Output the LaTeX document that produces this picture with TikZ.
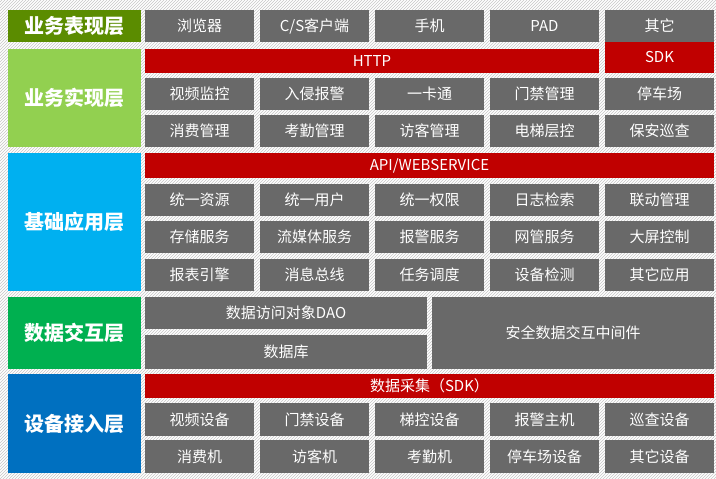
\documentclass[tikz,border=0pt]{standalone}
\usepackage{fontspec}
\setmainfont{Noto Sans CJK SC}
\usetikzlibrary{patterns}
\definecolor{cellgray}{HTML}{696969}
\definecolor{barred}{HTML}{C00000}
\definecolor{layerA}{HTML}{5B8C00}
\definecolor{layerB}{HTML}{92D050}
\definecolor{layerC}{HTML}{00B0F0}
\definecolor{layerD}{HTML}{00B050}
\definecolor{layerE}{HTML}{0070C0}
\begin{document}
\begin{tikzpicture}[x=1pt, y=-1pt,
    cell/.style={fill=cellgray, text=white, inner sep=0pt, minimum width=109pt, minimum height=32pt, font=\fontsize{15}{18}\selectfont},
    bar/.style={cell, fill=barred, minimum height=24pt},
    layer/.style={text=white, inner sep=0pt, minimum width=133pt, font=\fontsize{20}{24}\selectfont\bfseries}]
    % Fundo
    \useasboundingbox (0,0) rectangle (716,479);
    \fill[white] (0,0) rectangle (716,479);
    \fill[pattern=north east lines, pattern color=gray!45] (0,0) rectangle (716,479);

    % Camadas
    \node[layer, fill=layerA, minimum height=32pt] (L1) at (74.5,26) {业务表现层};
    \node[layer, fill=layerB, minimum height=98pt] (L2) at (74.5,98) {业务实现层};
    \node[layer, fill=layerC, minimum height=138pt] (L3) at (74.5,222) {基础应用层};
    \node[layer, fill=layerD, minimum height=72pt] (L4) at (74.5,333) {数据交互层};
    \node[layer, fill=layerE, minimum height=99pt] (L5) at (74.5,423.5) {设备接入层};

    % Linha 1
    \node[cell] (r1c1) at (199.5,26) {浏览器};
    \node[cell] (r1c2) at (314.5,26) {C/S客户端};
    \node[cell] (r1c3) at (429.5,26) {手机};
    \node[cell] (r1c4) at (544.5,26) {PAD};
    \node[cell] (r1c5) at (659.5,26) {其它};

    % Interfaces
    \node[bar, minimum width=454pt] (http) at (372,61) {HTTP};
    \node[bar, minimum height=31pt] (sdk) at (659.5,57.5) {SDK};

    % Linha 3
    \node[cell] (r3c1) at (199.5,94) {视频监控};
    \node[cell] (r3c2) at (314.5,94) {入侵报警};
    \node[cell] (r3c3) at (429.5,94) {一卡通};
    \node[cell] (r3c4) at (544.5,94) {门禁管理};
    \node[cell] (r3c5) at (659.5,94) {停车场};

    % Linha 4
    \node[cell] (r4c1) at (199.5,131) {消费管理};
    \node[cell] (r4c2) at (314.5,131) {考勤管理};
    \node[cell] (r4c3) at (429.5,131) {访客管理};
    \node[cell] (r4c4) at (544.5,131) {电梯层控};
    \node[cell] (r4c5) at (659.5,131) {保安巡查};

    % API
    \node[bar, minimum width=569pt, minimum height=25pt] (api) at (429.5,165.5) {API/WEBSERVICE};

    % Linha 6
    \node[cell] (r6c1) at (199.5,200) {统一资源};
    \node[cell] (r6c2) at (314.5,200) {统一用户};
    \node[cell] (r6c3) at (429.5,200) {统一权限};
    \node[cell] (r6c4) at (544.5,200) {日志检索};
    \node[cell] (r6c5) at (659.5,200) {联动管理};

    % Linha 7
    \node[cell] (r7c1) at (199.5,237) {存储服务};
    \node[cell] (r7c2) at (314.5,237) {流媒体服务};
    \node[cell] (r7c3) at (429.5,237) {报警服务};
    \node[cell] (r7c4) at (544.5,237) {网管服务};
    \node[cell] (r7c5) at (659.5,237) {大屏控制};

    % Linha 8
    \node[cell] (r8c1) at (199.5,275) {报表引擎};
    \node[cell] (r8c2) at (314.5,275) {消息总线};
    \node[cell] (r8c3) at (429.5,275) {任务调度};
    \node[cell] (r8c4) at (544.5,275) {设备检测};
    \node[cell] (r8c5) at (659.5,275) {其它应用};

    % Dados
    \node[cell, minimum width=282pt] (dao) at (286,313) {数据访问对象DAO};
    \node[cell, minimum width=282pt, minimum height=34pt] (db) at (286,352) {数据库};
    \node[cell, minimum width=282pt, minimum height=72pt] (mid) at (573,333) {安全数据交互中间件};

    % Coleta
    \node[bar, minimum width=569pt] (coleta) at (429.5,386) {数据采集（SDK）};

    % Linha 11
    \node[cell, minimum height=33pt] (r11c1) at (199.5,419.5) {视频设备};
    \node[cell, minimum height=33pt] (r11c2) at (314.5,419.5) {门禁设备};
    \node[cell, minimum height=33pt] (r11c3) at (429.5,419.5) {梯控设备};
    \node[cell, minimum height=33pt] (r11c4) at (544.5,419.5) {报警主机};
    \node[cell, minimum height=33pt] (r11c5) at (659.5,419.5) {巡查设备};

    % Linha 12
    \node[cell, minimum height=33pt] (r12c1) at (199.5,456.5) {消费机};
    \node[cell, minimum height=33pt] (r12c2) at (314.5,456.5) {访客机};
    \node[cell, minimum height=33pt] (r12c3) at (429.5,456.5) {考勤机};
    \node[cell, minimum height=33pt] (r12c4) at (544.5,456.5) {停车场设备};
    \node[cell, minimum height=33pt] (r12c5) at (659.5,456.5) {其它设备};
\end{tikzpicture}
\end{document}
